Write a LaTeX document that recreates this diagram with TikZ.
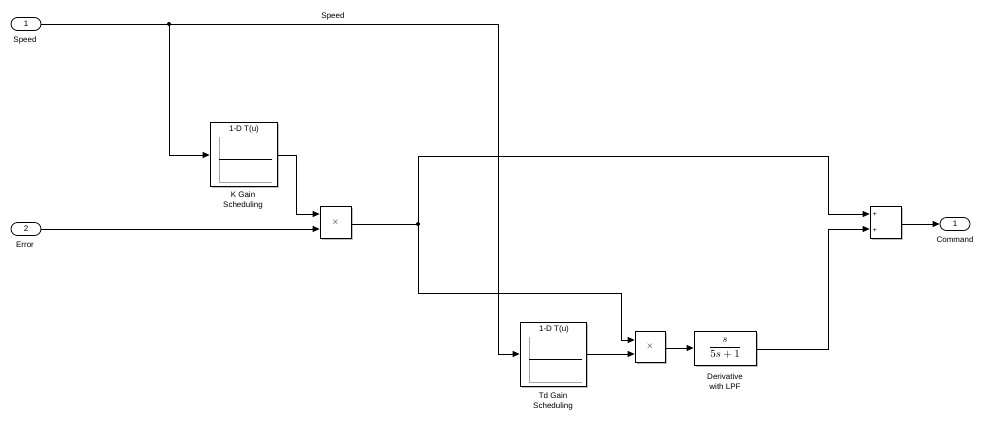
\documentclass[tikz,border=0pt]{standalone}
\usepackage{fontspec}
\setmainfont{Liberation Sans}
\usetikzlibrary{arrows.meta,calc}
\begin{document}
\begin{tikzpicture}[x=1pt,y=-1pt,
  wire/.style={line width=0.8pt,-{Triangle[length=7pt,width=6pt]}},
  ln/.style={line width=0.8pt},
  blk/.style={draw,line width=0.8pt,fill=white,minimum width=#1,inner sep=0pt},
  port/.style={draw,line width=0.8pt,rounded corners=6.5pt,minimum width=30pt,minimum height=13pt,inner sep=0pt,font=\fontsize{8}{9}\selectfont},
  lbl/.style={font=\fontsize{8}{10}\selectfont,align=center},
  dot/.style={circle,fill,inner sep=0pt,minimum size=4pt}]
\useasboundingbox (0,0) rectangle (1000,426);
% ports
\node[port] (in1) at (26,24) {1};
\node[lbl] at (25,40) {Speed};
\node[port] (in2) at (26,229) {2};
\node[lbl] at (25,245) {Error};
\node[port] (out1) at (955,224) {1};
\node[lbl] at (955,240) {Command};
% blocks with shadows
\foreach \a/\b/\c/\d in {210/122/277/186, 320/206/351/238, 520/322/586/386, 635/331/665/362, 694/331/756/365, 870/206/901/238}
  \fill[black!25] (\a+2,\b+2) rectangle (\c+2,\d+2);
\node[blk=67pt,minimum height=64pt] (K) at (243.5,154) {};
\node[blk=31pt,minimum height=32pt] (P1) at (335.5,222) {\fontsize{9}{9}\selectfont$\times$};
\node[blk=66pt,minimum height=64pt] (Td) at (553,354) {};
\node[blk=30pt,minimum height=31pt] (P2) at (650,346.5) {\fontsize{9}{9}\selectfont$\times$};
\node[blk=62pt,minimum height=34pt] (D) at (725,348) {\fontsize{11}{12}\selectfont$\displaystyle\frac{s}{5s+1}$};
\node[blk=31pt,minimum height=32pt] (S) at (885.5,222) {};
\node[font=\fontsize{7}{7}\selectfont] at (875,214) {+};
\node[font=\fontsize{7}{7}\selectfont] at (875,230) {+};
% lookup table insides
\foreach \n/\x/\y in {K/210/122, Td/520/322}{
  \node[font=\fontsize{8}{9}\selectfont] at (\x+34,\y+7) {1-D T(u)};
  \draw[black!35,line width=0.6pt] (\x+9,\y+15) -- (\x+9,\y+60) -- (\x+62,\y+60);
  \draw[line width=0.8pt] (\x+9,\y+37) -- (\x+62,\y+37);
}
\node[lbl] at (243,200) {K Gain\\Scheduling};
\node[lbl] at (553,401) {Td Gain\\Scheduling};
\node[lbl] at (725,382) {Derivative\\with LPF};
% wires
\coordinate (b1) at (169,24);
\coordinate (b2) at (418,224);
\node[dot] at (b1) {};
\node[dot] at (b2) {};
\draw[ln] (in1.east) -- (b1);
\draw[wire] (b1) -- (498,24) -- (498,354) -- (Td.west |- 0,354);
\node[lbl] at (333,16) {Speed};
\draw[wire] (b1) -- (169,155) -- (K.west |- 0,155);
\draw[wire] (K.east |- 0,155) -- (296,155) -- (296,214) -- (P1.west |- 0,214);
\draw[wire] (in2.east) -- (P1.west |- 0,229);
\draw[ln] (P1.east |- 0,224) -- (b2);
\draw[wire] (b2) -- (418,156) -- (828,156) -- (828,214) -- (S.west |- 0,214);
\draw[wire] (b2) -- (418,293) -- (621,293) -- (621,340) -- (P2.west |- 0,340);
\draw[wire] (Td.east |- 0,354) -- (P2.west |- 0,354);
\draw[wire] (P2.east |- 0,348) -- (D.west |- 0,348);
\draw[wire] (D.east |- 0,349) -- (828,349) -- (828,229) -- (S.west |- 0,229);
\draw[wire] (S.east |- 0,224) -- (out1.west);
\end{tikzpicture}
\end{document}
